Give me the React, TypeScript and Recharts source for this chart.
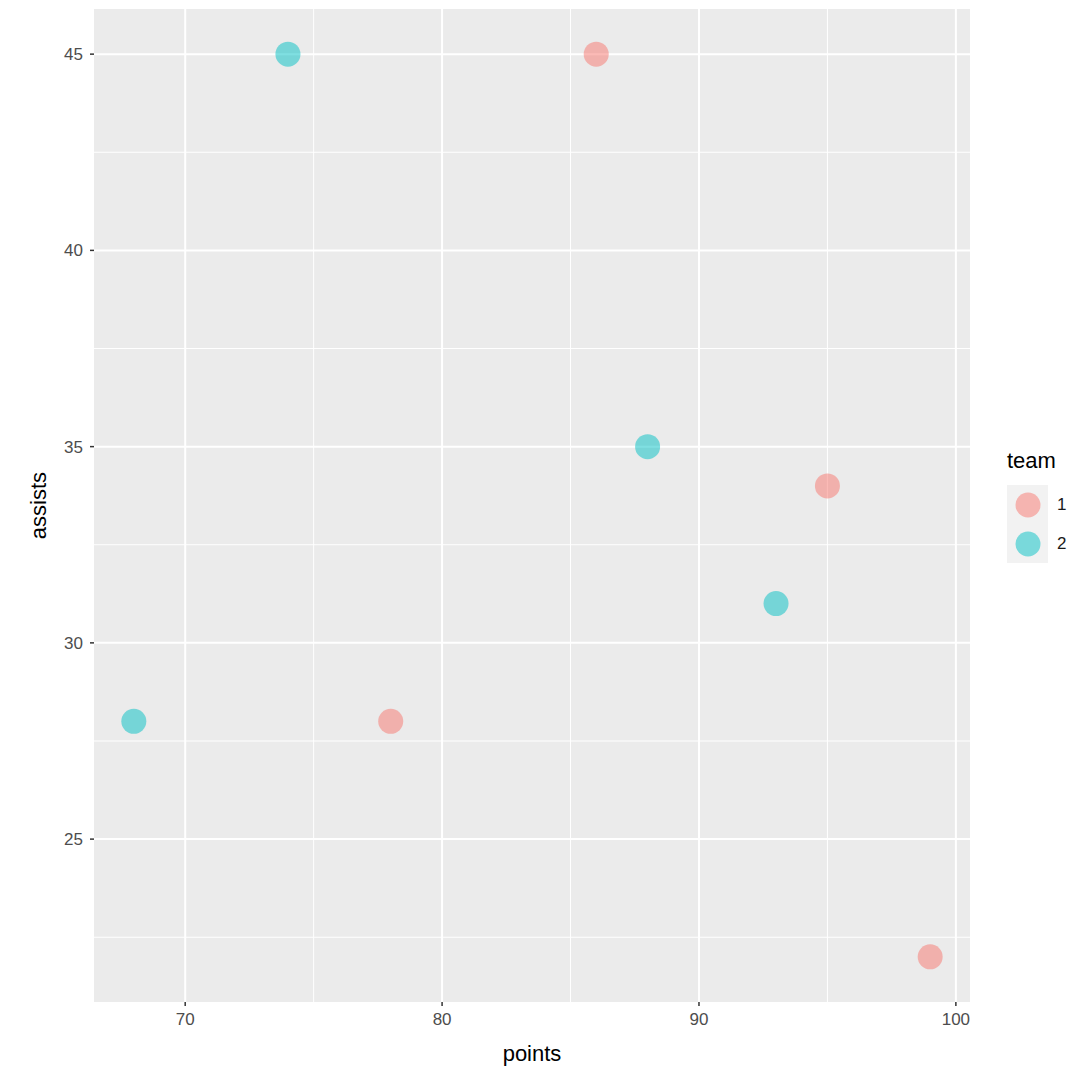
import { ScatterChart, Scatter, XAxis, YAxis, CartesianGrid, ReferenceLine } from 'recharts'

const team1 = [
  { points: 86, assists: 45 },
  { points: 78, assists: 28 },
  { points: 95, assists: 34 },
  { points: 99, assists: 22 },
]
const team2 = [
  { points: 74, assists: 45 },
  { points: 88, assists: 35 },
  { points: 93, assists: 31 },
  { points: 68, assists: 28 },
]
const xTicks = [70, 80, 90, 100]
const yTicks = [25, 30, 35, 40, 45]
const xMinor = [75, 85, 95]
const yMinor = [22.5, 27.5, 32.5, 37.5, 42.5]

const teams = [
  { name: '1', color: '#F8766D', data: team1 },
  { name: '2', color: '#00BFC4', data: team2 },
]

const FONT = '"Liberation Sans", Arial, sans-serif'
const ALPHA = 0.5

const Dot = (props: any) => (
  <circle cx={props.cx} cy={props.cy} r={12.5} fill={props.fill} fillOpacity={ALPHA} />
)

// legend drawn as plain html next to the plot, like ggplot's guide box
const TeamLegend = () => (
  <div style={{ position: 'absolute', left: 1007, top: 445, fontFamily: FONT, color: '#000' }}>
    <div style={{ fontSize: 22, lineHeight: '32px', marginBottom: 8 }}>team</div>
    {teams.map((t) => (
      <div key={t.name} style={{ display: 'flex', alignItems: 'center', height: 39 }}>
        <div style={{ width: 41, height: 39, background: '#F2F2F2', display: 'flex', alignItems: 'center', justifyContent: 'center' }}>
          <svg width={26} height={26}>
            <circle cx={13} cy={13} r={12.5} fill={t.color} fillOpacity={ALPHA} />
          </svg>
        </div>
        <span style={{ fontSize: 17, marginLeft: 9, color: '#1a1a1a' }}>{t.name}</span>
      </div>
    ))}
  </div>
)

export default function App() {
  return (
    <div style={{ position: 'absolute', left: 0, top: 0, width: 1089, height: 1075, background: '#fff' }}>
      <ScatterChart width={1089} height={1075} margin={{ top: 9, right: 119, bottom: 0, left: 0 }}>
        <CartesianGrid fill="#EBEBEB" stroke="#FFFFFF" strokeWidth={2} horizontalValues={yTicks} verticalValues={xTicks} />
        {xMinor.map((v) => (
          <ReferenceLine key={`xm${v}`} x={v} stroke="#FFFFFF" strokeWidth={1} />
        ))}
        {yMinor.map((v) => (
          <ReferenceLine key={`ym${v}`} y={v} stroke="#FFFFFF" strokeWidth={1} />
        ))}
        <XAxis
          type="number"
          dataKey="points"
          domain={[66.45, 100.55]}
          ticks={xTicks}
          allowDataOverflow
          height={73}
          axisLine={false}
          tickSize={4}
          tickMargin={7}
          tickLine={{ stroke: '#333333', strokeWidth: 1.5 }}
          tick={{ fill: '#4D4D4D', fontSize: 17, fontFamily: FONT }}
          label={{ value: 'points', position: 'insideBottom', offset: 14, fill: '#000', fontSize: 22, fontFamily: FONT }}
        />
        <YAxis
          type="number"
          dataKey="assists"
          domain={[20.85, 46.15]}
          ticks={yTicks}
          allowDataOverflow
          width={94}
          axisLine={false}
          tickSize={4}
          tickMargin={7}
          tickLine={{ stroke: '#333333', strokeWidth: 1.5 }}
          tick={{ fill: '#4D4D4D', fontSize: 17, fontFamily: FONT }}
          label={{ value: 'assists', angle: -90, position: 'insideLeft', offset: 38, fill: '#000', fontSize: 22, fontFamily: FONT, style: { textAnchor: 'middle' } }}
        />
        {teams.map((t) => (
          <Scatter key={t.name} name={t.name} data={t.data} fill={t.color} shape={Dot} isAnimationActive={false} />
        ))}
      </ScatterChart>
      <TeamLegend />
    </div>
  )
}
